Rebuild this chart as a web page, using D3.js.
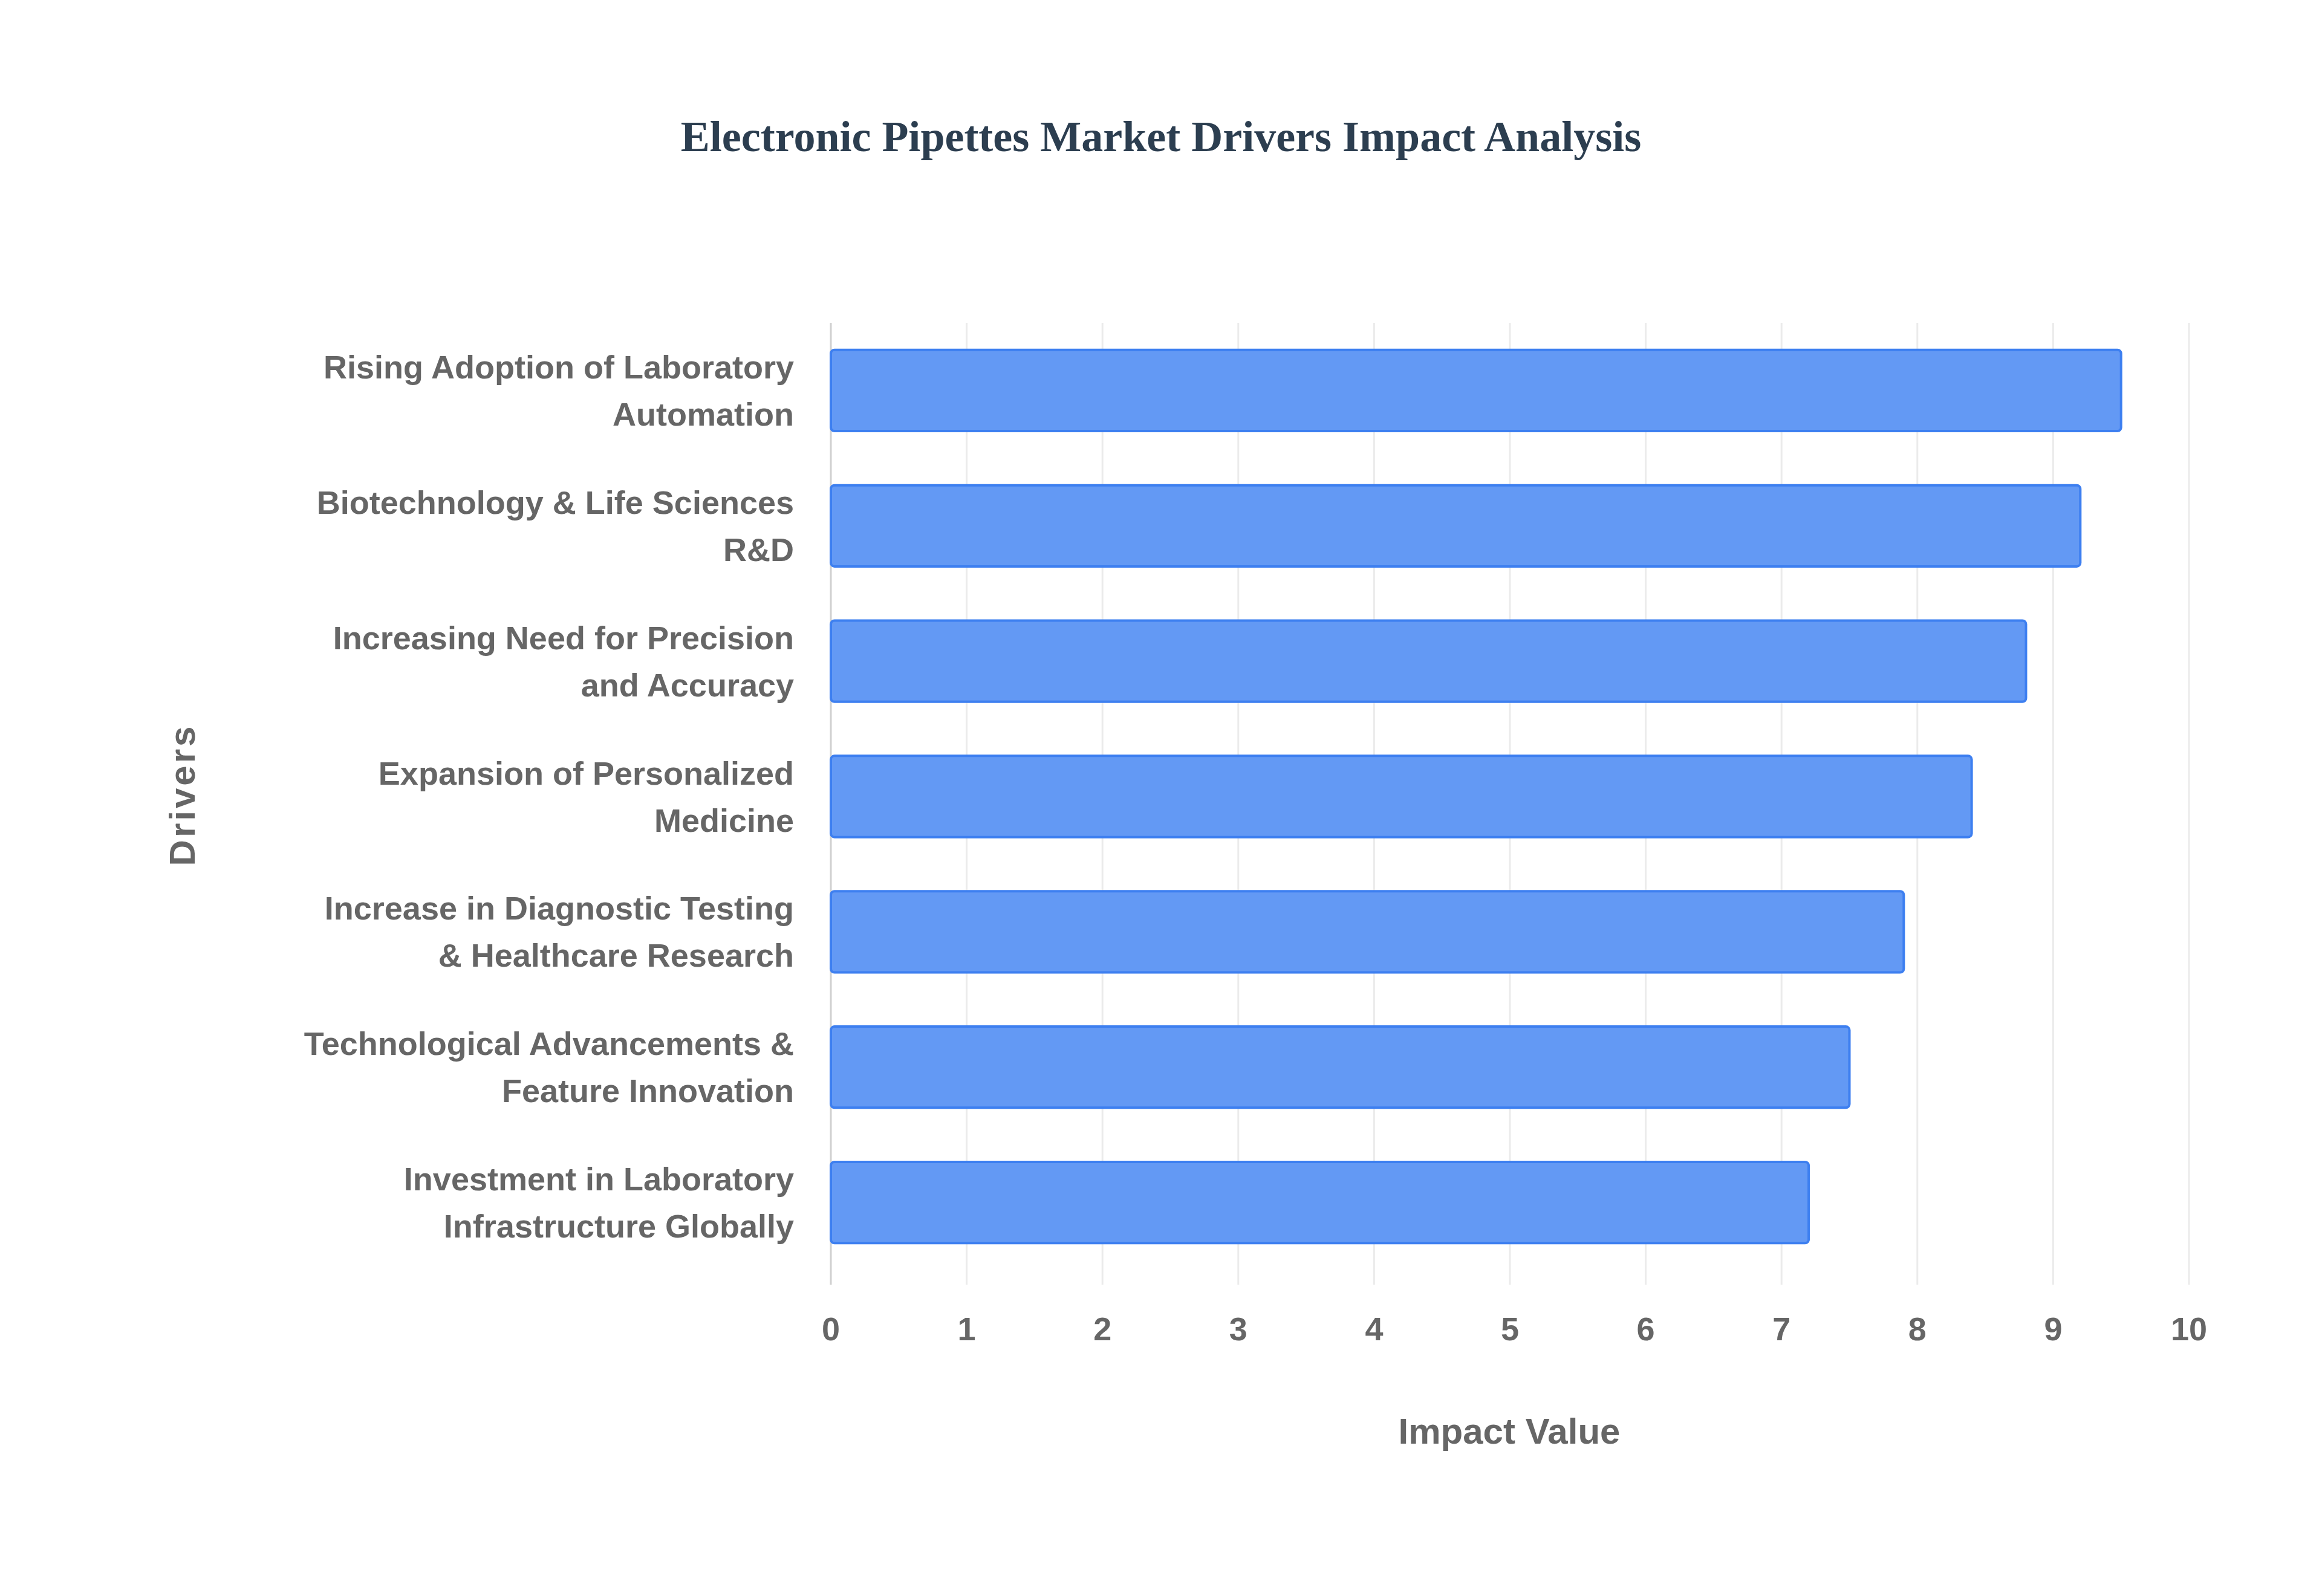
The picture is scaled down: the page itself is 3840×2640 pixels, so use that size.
<!DOCTYPE html>
<html><head><meta charset="utf-8">
<script src="https://cdn.jsdelivr.net/npm/d3@7"></script>
<style>body{margin:0;background:#fff}</style>
</head><body>
<script>
// chart data
const drivers = [
  ["Rising Adoption of Laboratory", "Automation"],
  ["Biotechnology & Life Sciences", "R&D"],
  ["Increasing Need for Precision", "and Accuracy"],
  ["Expansion of Personalized", "Medicine"],
  ["Increase in Diagnostic Testing", "& Healthcare Research"],
  ["Technological Advancements &", "Feature Innovation"],
  ["Investment in Laboratory", "Infrastructure Globally"]
];
const impact = [9.5, 9.2, 8.8, 8.4, 7.9, 7.5, 7.2];
const ticks = [0,1,2,3,4,5,6,7,8,9,10];

const W = 3840, H = 2640;
const svg = d3.select("body").append("svg").attr("width", W).attr("height", H);

const x = d3.scaleLinear().domain([0, 10]).range([1374, 3620]);
const y = d3.scaleBand().domain(d3.range(drivers.length)).range([534, 2101]).paddingInner(0.4).paddingOuter(0.2);

svg.append("text").attr("x", 1920).attr("y", 250).attr("text-anchor", "middle")
  .style("font-family", "Liberation Serif, Times New Roman, serif").style("font-weight", "bold")
  .style("font-size", "72px").style("fill", "#2c3e50")
  .text("Electronic Pipettes Market Drivers Impact Analysis");

// grid
svg.append("g").selectAll("line").data(ticks).join("line")
  .attr("x1", d => x(d)).attr("x2", d => x(d)).attr("y1", 534).attr("y2", 2125)
  .attr("stroke", d => d === 0 ? "#d0d0d0" : "#ebebeb").attr("stroke-width", 3);

// bars
svg.append("g").selectAll("rect").data(impact).join("rect")
  .attr("x", x(0)).attr("y", (d, i) => y(i))
  .attr("width", d => x(d) - x(0)).attr("height", y.bandwidth())
  .attr("rx", 6)
  .attr("fill", "#6399f4").attr("stroke", "#3d7ff0").attr("stroke-width", 4);

const font = "Liberation Sans, Arial, sans-serif";

// y labels
const lab = svg.append("g").selectAll("text").data(drivers).join("text")
  .attr("text-anchor", "end")
  .style("font-family", font).style("font-weight", "bold").style("font-size", "54px").style("fill", "#666");
lab.each(function(d, i) {
  const c = y(i) + y.bandwidth() / 2;
  d3.select(this).selectAll("tspan").data(d).join("tspan")
    .attr("x", 1313).attr("y", (t, j) => c - 20 + j * 78).text(t => t);
});

// x tick labels
svg.append("g").selectAll("text").data(ticks).join("text")
  .attr("x", d => x(d)).attr("y", 2217).attr("text-anchor", "middle")
  .style("font-family", font).style("font-weight", "bold").style("font-size", "54px").style("fill", "#666")
  .text(d => d);

svg.append("text").attr("x", 2496).attr("y", 2388).attr("text-anchor", "middle")
  .style("font-family", font).style("font-weight", "bold").style("font-size", "60px").style("fill", "#666")
  .text("Impact Value");

svg.append("text").attr("transform", "translate(322,1315) rotate(-90)").attr("text-anchor", "middle")
  .style("font-family", font).style("font-weight", "bold").style("font-size", "60px").style("fill", "#666")
  .style("letter-spacing", "4px")
  .text("Drivers");
</script>
</body></html>
